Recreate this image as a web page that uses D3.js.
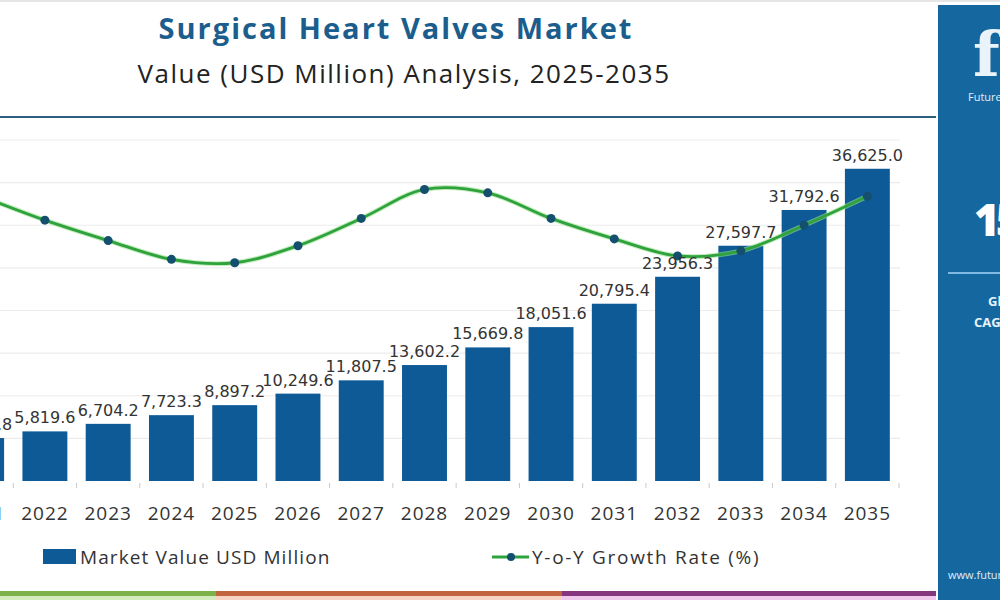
<!DOCTYPE html>
<html>
<head>
<meta charset="utf-8">
<script src="https://cdn.jsdelivr.net/npm/d3@7"></script>
<style>
  body { margin: 0; background: #fff; }
  svg { display: block; }
</style>
</head>
<body>
<div class="chart"></div>
<script>
var years = ["2021", "2022", "2023", "2024", "2025", "2026", "2027", "2028",
  "2029", "2030", "2031", "2032", "2033", "2034", "2035"];
var marketValue = [5037.8, 5819.6, 6704.2, 7723.3, 8897.2, 10249.6, 11807.5, 13602.2,
  15669.8, 18051.6, 20795.4, 23956.3, 27597.7, 31792.6, 36625.0];
var growthRate = [15.67, 15.53, 15.41, 15.30, 15.28, 15.38, 15.54, 15.71,
  15.69, 15.54, 15.42, 15.32, 15.35, 15.50, 15.67];
var valueTicks = [5000, 10000, 15000, 20000, 25000, 30000, 35000, 40000];

var svgWidth = 1000;
var svgHeight = 600;

var baseY = 481;
var topY = 140;

var svg = d3.select(".chart")
  .append("svg")
  .attr("width", svgWidth)
  .attr("height", svgHeight);

// top border + title block
svg.append("rect").attr("x", 0).attr("y", 0).attr("width", svgWidth).attr("height", 2).attr("fill", "#e6e6e6");

svg.append("text")
  .attr("x", 396).attr("y", 39)
  .attr("text-anchor", "middle")
  .attr("font-family", "'Open Sans', sans-serif")
  .attr("font-weight", 700)
  .attr("font-size", 29)
  .attr("letter-spacing", 2)
  .attr("fill", "#1b5d8c")
  .text("Surgical Heart Valves Market");

svg.append("text")
  .attr("x", 404).attr("y", 83)
  .attr("text-anchor", "middle")
  .attr("font-family", "'Open Sans', sans-serif")
  .attr("font-size", 26)
  .attr("letter-spacing", 1.5)
  .attr("fill", "#222")
  .text("Value (USD Million) Analysis, 2025-2035");

svg.append("line")
  .attr("x1", 0).attr("x2", 936)
  .attr("y1", 117).attr("y2", 117)
  .attr("stroke", "#2a5f80")
  .attr("stroke-width", 2);

// scales
var x = d3.scaleBand()
  .domain(years)
  .range([-50, 899])
  .paddingInner(0.29)
  .paddingOuter(0.145);

var y = d3.scaleLinear()
  .domain([0, 40000])
  .range([baseY, topY]);

var yRate = d3.scaleLinear()
  .domain([14, 16])
  .range([baseY, topY]);

var chart = svg.append("g");

// gridlines
chart.append("g")
  .selectAll("line")
  .data(valueTicks)
  .enter()
  .append("line")
  .attr("x1", 0).attr("x2", 900)
  .attr("y1", d => y(d)).attr("y2", d => y(d))
  .attr("stroke", "#ececec")
  .attr("stroke-width", 1.2);

// bars
chart.selectAll("rect.bar")
  .data(years)
  .enter()
  .append("rect")
  .classed("bar", true)
  .attr("x", d => x(d))
  .attr("y", (d, i) => y(marketValue[i]))
  .attr("width", x.bandwidth())
  .attr("height", (d, i) => baseY - y(marketValue[i]))
  .attr("fill", "#0d5a97");

// x axis (ticks only, between bars)
var xAxis = chart.append("g")
  .attr("transform", `translate(0, ${baseY + 2})`)
  .call(d3.axisBottom(x).tickSize(0).tickPadding(24));
xAxis.select(".domain").remove();
xAxis.selectAll("text")
  .attr("font-family", "'Open Sans', sans-serif")
  .attr("font-size", 19)
  .attr("letter-spacing", 1)
  .attr("fill", "#333");

var edges = years.map(d => x(d) - x.step() * x.paddingInner() / 2);
edges.push(x(years[years.length - 1]) + x.bandwidth() + x.step() * x.paddingInner() / 2);
chart.append("g")
  .selectAll("line")
  .data(edges)
  .enter()
  .append("line")
  .attr("x1", d => d).attr("x2", d => d)
  .attr("y1", baseY + 2).attr("y2", baseY + 7)
  .attr("stroke", "#c8c8c8");

// growth line
var line = d3.line()
  .x((d, i) => x(years[i]) + x.bandwidth() / 2)
  .y(d => yRate(d))
  .curve(d3.curveCatmullRom.alpha(0.5));

chart.append("path")
  .datum(growthRate)
  .attr("d", line)
  .attr("fill", "none")
  .attr("stroke", "#9be08f")
  .attr("stroke-width", 5)
  .attr("opacity", 0.6);

chart.append("path")
  .datum(growthRate)
  .attr("d", line)
  .attr("fill", "none")
  .attr("stroke", "#2ea23c")
  .attr("stroke-width", 2.8);

chart.selectAll("circle.pt")
  .data(growthRate)
  .enter()
  .append("circle")
  .classed("pt", true)
  .attr("cx", (d, i) => x(years[i]) + x.bandwidth() / 2)
  .attr("cy", d => yRate(d))
  .attr("r", 4.5)
  .attr("fill", "#14506e");

// value labels
chart.selectAll("text.val")
  .data(marketValue)
  .enter()
  .append("text")
  .classed("val", true)
  .attr("x", (d, i) => x(years[i]) + x.bandwidth() / 2)
  .attr("y", d => y(d) - 8)
  .attr("text-anchor", "middle")
  .attr("font-family", "'DejaVu Sans', sans-serif")
  .attr("font-size", 16)
  .attr("fill", "#333")
  .text(d => d3.format(",.1f")(d));

// legend
var legend = svg.append("g");
legend.append("rect")
  .attr("x", 43).attr("y", 549)
  .attr("width", 33).attr("height", 15)
  .attr("fill", "#0d5a97");
legend.append("text")
  .attr("x", 80).attr("y", 564)
  .attr("font-family", "'Open Sans', sans-serif")
  .attr("font-size", 19)
  .attr("letter-spacing", 1.1)
  .attr("fill", "#333")
  .text("Market Value USD Million");
legend.append("line")
  .attr("x1", 492).attr("x2", 529)
  .attr("y1", 557).attr("y2", 557)
  .attr("stroke", "#2ea23c")
  .attr("stroke-width", 3);
legend.append("circle")
  .attr("cx", 511).attr("cy", 557)
  .attr("r", 4)
  .attr("fill", "#14506e");
legend.append("text")
  .attr("x", 532).attr("y", 564)
  .attr("font-family", "'Open Sans', sans-serif")
  .attr("font-size", 19)
  .attr("letter-spacing", 1.7)
  .attr("fill", "#333")
  .text("Y-o-Y Growth Rate (%)");

// bottom colour strip
var strips = [
  { x0: 0, x1: 216, dark: "#7db24a", light: "#d3ecbd" },
  { x0: 216, x1: 562, dark: "#c0653e", light: "#f6d3c2" },
  { x0: 562, x1: 936, dark: "#86367f", light: "#f0c8ec" }
];
strips.forEach(function(s) {
  svg.append("rect").attr("x", s.x0).attr("y", 591).attr("width", s.x1 - s.x0).attr("height", 5).attr("fill", s.dark);
  svg.append("rect").attr("x", s.x0).attr("y", 596).attr("width", s.x1 - s.x0).attr("height", 4).attr("fill", s.light);
});

// right side panel
var panel = svg.append("g");
panel.append("rect")
  .attr("x", 938).attr("y", 5)
  .attr("width", 62).attr("height", 595)
  .attr("fill", "#15679f");
panel.append("text")
  .attr("x", 973).attr("y", 76)
  .attr("font-family", "'DejaVu Serif', serif")
  .attr("font-weight", 700)
  .attr("font-size", 62)
  .attr("fill", "#eaf3fa")
  .text("f");
panel.append("text")
  .attr("x", 968).attr("y", 101)
  .attr("font-family", "'Open Sans', sans-serif")
  .attr("font-size", 11)
  .attr("fill", "#e0eef8")
  .text("Future");
panel.append("text")
  .attr("x", 974).attr("y", 236)
  .attr("font-family", "'Open Sans', sans-serif")
  .attr("font-weight", 800)
  .attr("font-size", 44)
  .attr("letter-spacing", -4)
  .attr("fill", "#fff")
  .text("15.2%");
panel.append("line")
  .attr("x1", 948).attr("x2", 1000)
  .attr("y1", 273).attr("y2", 273)
  .attr("stroke", "#7fb8e0")
  .attr("stroke-width", 2);
panel.append("text")
  .attr("x", 988).attr("y", 306)
  .attr("font-family", "'Open Sans', sans-serif")
  .attr("font-weight", 700)
  .attr("font-size", 13)
  .attr("fill", "#e8f2fa")
  .text("Global");
panel.append("text")
  .attr("x", 974).attr("y", 327)
  .attr("font-family", "'Open Sans', sans-serif")
  .attr("font-weight", 700)
  .attr("font-size", 13)
  .attr("fill", "#e8f2fa")
  .text("CAGR");
panel.append("text")
  .attr("x", 948).attr("y", 579)
  .attr("font-family", "'Open Sans', sans-serif")
  .attr("font-size", 11)
  .attr("fill", "#e0eef8")
  .text("www.futuremarketinsights.com");
</script>
</body>
</html>
